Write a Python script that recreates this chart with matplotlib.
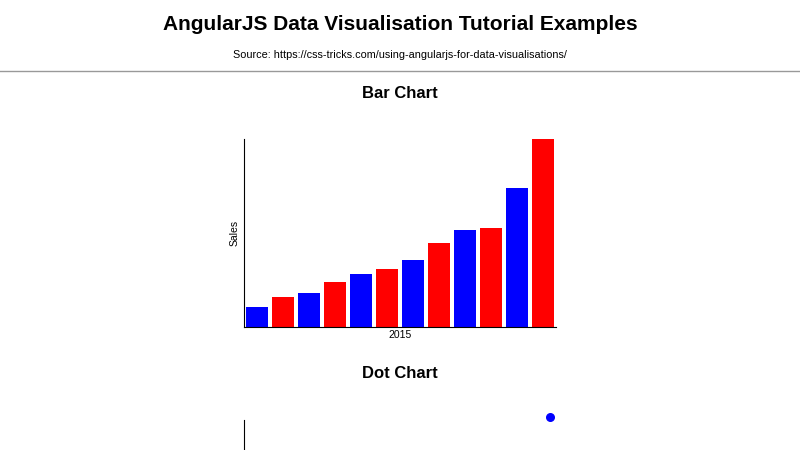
import matplotlib
matplotlib.use("Agg")
import matplotlib.pyplot as plt

plt.rcParams['font.family'] = ['Liberation Sans', 'DejaVu Sans']

sales = [20, 30, 34, 45, 53, 58, 67, 84, 97, 99, 139, 188]
colors = ['blue', 'red'] * 6
year_label = '2015'
dot_values = [192]

W, H = 800, 450
fig = plt.figure(figsize=(8, 4.5), dpi=100)

def fy(y):
    return 1 - y / H

fig.text(0.5, fy(24), 'AngularJS Data Visualisation Tutorial Examples', ha='center', va='center',
         fontsize=15, fontweight='bold')
fig.text(0.5, fy(55), 'Source: https://css-tricks.com/using-angularjs-for-data-visualisations/',
         ha='center', va='center', fontsize=7.8)
fig.add_artist(plt.Line2D([0, 1], [fy(71), fy(71)], color='#999999', lw=1))
fig.text(0.5, fy(93), 'Bar Chart', ha='center', va='center', fontsize=12, fontweight='bold')
fig.text(0.5, fy(374), 'Dot Chart', ha='center', va='center', fontsize=12, fontweight='bold')

# Bar chart
ax = fig.add_axes([244 / W, fy(327), (556 - 244) / W, (327 - 139) / H])
x = list(range(len(sales)))
ax.bar(x, sales, width=0.85, color=colors)
ax.set_xlim(-0.5, len(sales) - 0.5)
ax.set_ylim(0, max(sales))
for s in ['top', 'right']:
    ax.spines[s].set_visible(False)
ax.set_xticks([])
ax.set_yticks([])
ax.set_xlabel(year_label, fontsize=7.5, labelpad=2)
ax.set_ylabel('Sales', fontsize=7.5, labelpad=3)

# Dot chart
ax2 = fig.add_axes([244 / W, 0, (556 - 244) / W, (450 - 420) / H])
ax2.set_xlim(-0.5, len(sales) - 0.5)
ax2.set_ylim(150, 188)
ax2.scatter([11.25], dot_values, s=30, color='blue', clip_on=False, zorder=3)
for s in ['top', 'right', 'bottom']:
    ax2.spines[s].set_visible(False)
ax2.set_xticks([])
ax2.set_yticks([])

fig.savefig('out.png', dpi=100)
